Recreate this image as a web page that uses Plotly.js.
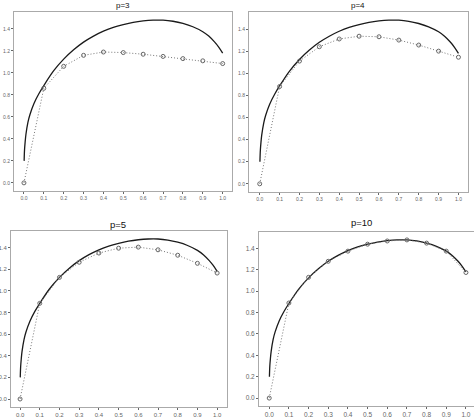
<!DOCTYPE html>
<html><head><meta charset="utf-8">
<script src="https://cdn.plot.ly/plotly-3.0.1.min.js"></script>
<style>html,body{margin:0;padding:0;background:#fff}#g{width:474px;height:418px}</style>
</head><body><div id="g"></div>
<script>
// True curve (shared in all panels)
const curveX = [0.001,0.003,0.006,0.01,0.02,0.03,0.05,0.075,0.1,0.15,0.2,0.25,0.3,0.35,0.4,0.45,0.5,0.55,0.6,0.65,0.7,0.75,0.8,0.85,0.9,0.93,0.96,0.98,1.0];
const curveY = [0.2,0.3,0.37,0.44,0.55,0.62,0.72,0.81,0.885,1.02,1.125,1.21,1.28,1.335,1.38,1.415,1.44,1.46,1.473,1.48,1.48,1.47,1.45,1.42,1.375,1.335,1.28,1.235,1.18];
// Approximation points
const ptsX = [0,0.1,0.2,0.3,0.4,0.5,0.6,0.7,0.8,0.9,1.0];
const p3 = [0,0.86,1.06,1.16,1.19,1.185,1.17,1.15,1.13,1.11,1.085];
const p4 = [0,0.88,1.11,1.24,1.31,1.335,1.33,1.30,1.255,1.20,1.145];
const p5 = [0,0.885,1.125,1.265,1.35,1.395,1.405,1.38,1.33,1.255,1.165];
const p10 = [0,0.89,1.13,1.28,1.375,1.44,1.47,1.48,1.45,1.375,1.175];
const titles = ["p=3","p=4","p=5","p=10"];
const series = [p3,p4,p5,p10];

const W=474,H=418;
const boxes = [
  {x0:14,x1:232,y0:12,y1:191,xr:[-0.05,1.047],fs:5,tx:123,ty:5,tfs:8},
  {x0:249,x1:468,y0:12,y1:192,xr:[-0.054,1.048],fs:5,tx:358,ty:5,tfs:8},
  {x0:11,x1:227,y0:231,y1:407,xr:[-0.046,1.05],fs:6,tx:118,ty:224,tfs:9.5},
  {x0:259,x1:474,y0:232,y1:406,xr:[-0.052,1.041],fs:6.5,tx:361,ty:222,tfs:9.5}
];
const traces=[], layout={width:W,height:H,margin:{l:0,r:0,t:0,b:0},showlegend:false,
  paper_bgcolor:'#fff',plot_bgcolor:'#fff',annotations:[],font:{family:'Liberation Sans, Arial, sans-serif'}};
boxes.forEach((b,i)=>{
  const n=i+1, xa='x'+(n>1?n:''), ya='y'+(n>1?n:'');
  traces.push({x:curveX,y:curveY,xaxis:xa,yaxis:ya,mode:'lines',line:{color:'#1a1a1a',width:1.3,shape:'spline'},hoverinfo:'skip'});
  traces.push({x:ptsX,y:series[i],xaxis:xa,yaxis:ya,mode:'lines+markers',line:{color:'#777',width:1,dash:'1px,2px'},
    marker:{symbol:'circle-open',size:4,color:'#666',line:{width:1}},hoverinfo:'skip'});
  const axCommon={showgrid:false,zeroline:false,showline:true,mirror:true,linecolor:'#aaa',linewidth:1,
    ticks:'outside',ticklen:2,tickcolor:'#666',tickfont:{size:b.fs,color:'#666'}};
  layout['xaxis'+(n>1?n:'')]=Object.assign({},axCommon,{domain:[b.x0/W,b.x1/W],range:b.xr,anchor:ya,
    tickvals:ptsX,tickformat:'.1f'});
  layout['yaxis'+(n>1?n:'')]=Object.assign({},axCommon,{domain:[1-b.y1/H,1-b.y0/H],range:[-0.074,1.554],anchor:xa,
    tickvals:[0,0.2,0.4,0.6,0.8,1.0,1.2,1.4],tickformat:'.1f'});
  layout.annotations.push({text:titles[i],xref:'paper',yref:'paper',x:b.tx/W,y:1-b.ty/H,
    xanchor:'center',yanchor:'middle',showarrow:false,font:{size:b.tfs,color:'#111'}});
});
Plotly.newPlot('g',traces,layout,{staticPlot:true});
</script></body></html>
